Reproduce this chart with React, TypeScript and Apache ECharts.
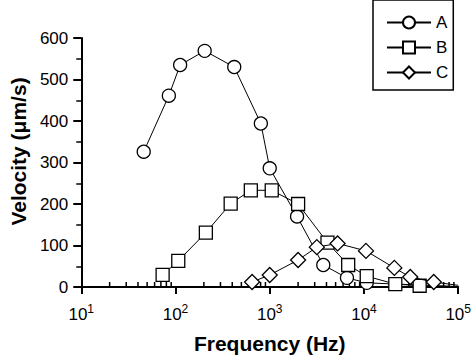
import React, { useEffect, useRef } from "react";
import * as echarts from "echarts";

const FONT = "'Liberation Sans', Arial, Helvetica, sans-serif";

// Series A (circles)
const freqA = [46, 85, 112, 204, 420, 805, 1000, 1950, 3700, 6600, 10700, 100000];
const velA = [326, 461, 535, 569, 530, 394, 286, 170, 53, 22, 10, 1];
// Series B (squares)
const freqB = [73, 107, 210, 385, 630, 1050, 2000, 4100, 6800, 10700, 21500, 39000, 100000];
const velB = [29, 63, 131, 201, 233, 233, 200, 107, 53, 26, 7, 3, 1];
// Series C (diamonds)
const freqC = [650, 1000, 2000, 3160, 5250, 10500, 21000, 31000, 55000, 100000];
const velC = [12, 29, 65, 96, 105, 87, 46, 24, 12, 4];

const seriesNames = ["A", "B", "C"];
const seriesSymbols = ["circle", "rect", "diamond"];
const symbolSizes = [13, 13, 15];

// minor tick positions on the log frequency axis
const minorTicks = [
  20, 30, 40, 50, 60, 70, 80, 90,
  200, 300, 400, 500, 600, 700, 800, 900,
  2000, 3000, 4000, 5000, 6000, 7000, 8000, 9000,
  20000, 30000, 40000, 50000, 60000, 70000, 80000, 90000,
];

const xMin = 10;
const xMax = 100000;
const yMin = 0;
const yMax = 600;
const yInterval = 100;

export default function App() {
  const ref = useRef<HTMLDivElement>(null);

  useEffect(() => {
    const chart = echarts.init(ref.current!, null, { renderer: "svg" });

    const freqs = [freqA, freqB, freqC];
    const vels = [velA, velB, velC];

    const lineSeries = seriesNames.map((name, si) => ({
      name,
      type: "line",
      symbol: seriesSymbols[si],
      symbolSize: symbolSizes[si],
      z: 3 + si,
      lineStyle: { color: "#000", width: 1 },
      itemStyle: { color: "#fff", borderColor: "#000", borderWidth: 1.3 },
      data: freqs[si].map((f, i) =>
        f >= xMax
          ? { value: [f, vels[si][i]], symbol: "none" }
          : { value: [f, vels[si][i]] }
      ),
    }));

    chart.setOption({
      animation: false,
      backgroundColor: "#fff",
      textStyle: { fontFamily: FONT },
      grid: { left: 76, right: 15, top: 38, bottom: 71 },
      legend: {
        orient: "vertical",
        left: 373,
        top: 0,
        data: seriesNames,
        itemWidth: 44,
        itemHeight: 15,
        itemGap: 8,
        padding: [14, 5, 9, 13],
        borderColor: "#000",
        borderWidth: 1.5,
        backgroundColor: "#fff",
        textStyle: { fontSize: 17, color: "#000", fontFamily: FONT },
      },
      xAxis: {
        type: "log",
        logBase: 10,
        min: xMin,
        max: xMax,
        name: "Frequency (Hz)",
        nameLocation: "middle",
        nameGap: 46,
        nameTextStyle: { fontSize: 21, fontWeight: "bold", color: "#000", fontFamily: FONT },
        axisLine: { lineStyle: { color: "#000", width: 2 } },
        axisTick: { length: 7, lineStyle: { color: "#000", width: 2 } },
        splitLine: { show: false },
        axisLabel: {
          margin: 16,
          formatter: (v: number) => `{b|10}{s|${Math.round(Math.log10(v))}}`,
          rich: {
            b: { fontSize: 17, color: "#000", fontFamily: FONT },
            s: { fontSize: 12, color: "#000", fontFamily: FONT, padding: [0, 0, 10, 0] },
          },
        },
      },
      yAxis: {
        type: "value",
        min: yMin,
        max: yMax,
        interval: yInterval,
        name: "Velocity (μm/s)",
        nameLocation: "middle",
        nameGap: 50,
        nameTextStyle: {
          fontSize: 21,
          fontWeight: "bold",
          color: "#000",
          fontFamily: FONT,
          padding: [0, 0, 0, 22],
        },
        axisLine: { show: true, lineStyle: { color: "#000", width: 2 } },
        axisTick: { show: true, length: 8, lineStyle: { color: "#000", width: 2 } },
        minorTick: { show: true, splitNumber: 2, length: 5, lineStyle: { color: "#000", width: 1.5 } },
        splitLine: { show: false },
        axisLabel: { margin: 13, fontSize: 17, color: "#000", fontFamily: FONT },
      },
      series: [
        ...lineSeries,
        {
          name: "minorTicks",
          type: "custom",
          silent: true,
          clip: false,
          z: 1,
          data: minorTicks.map((f) => [f, 0]),
          renderItem: (_params: any, api: any) => {
            const p = api.coord([api.value(0), 0]);
            return {
              type: "line",
              shape: { x1: p[0], y1: p[1], x2: p[0], y2: p[1] - 5 },
              style: { stroke: "#000", lineWidth: 1.5 },
            };
          },
        },
      ],
    });

    return () => chart.dispose();
  }, []);

  return (
    <div
      ref={ref}
      style={{ position: "fixed", left: 0, top: 0, width: 474, height: 359, background: "#fff" }}
    />
  );
}
